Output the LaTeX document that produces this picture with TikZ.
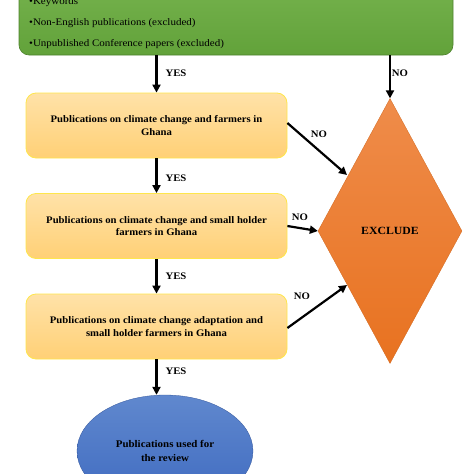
\documentclass[tikz,border=0pt]{standalone}
\usepackage{fontspec}
\setmainfont{Liberation Serif}
\newfontfamily\wideserif[FakeStretch=1.1]{Liberation Serif}
\newfontfamily\midserif[FakeStretch=1.07]{Liberation Serif}
\usetikzlibrary{shapes.geometric,arrows.meta}
\begin{document}
\begin{tikzpicture}[x=1pt,y=-1pt,
  greenbox/.style={line width=0.6pt,rounded corners=10pt,minimum width=434pt,minimum height=100pt,inner sep=0pt},
  stepbox/.style={draw=yellow!80!orange!70,line width=0.8pt,rounded corners=10pt,top color={rgb,255:red,255;green,226;blue,168},bottom color={rgb,255:red,255;green,208;blue,118},minimum width=261pt,minimum height=65pt,align=center,font=\midserif\fontsize{10}{12.5}\selectfont\bfseries,inner sep=0pt},
  lbl/.style={font=\midserif\fontsize{10}{11}\selectfont\bfseries,inner sep=0pt},
  arr/.style={line width=2.2pt,-{Triangle[length=8pt,width=8pt]}}]
\useasboundingbox (0,0) rectangle (474,474);
\definecolor{gtop}{RGB}{124,184,84}
\definecolor{gbot}{RGB}{98,162,58}
\definecolor{otop}{RGB}{239,140,74}
\definecolor{obot}{RGB}{232,114,32}
\definecolor{btop}{RGB}{96,136,206}
\definecolor{bbot}{RGB}{62,106,192}
\node[greenbox,top color=gtop,bottom color=gbot,draw=gbot!80!black] (screen) at (236,5) {};
\node[anchor=west,align=left,font=\wideserif\fontsize{10}{21}\selectfont,inner sep=0pt] (crit) at (29,23.5) {•Keywords\\•Non-English publications (excluded)\\•Unpublished Conference papers (excluded)};
\node[stepbox] (b1) at (156.5,125.5) {Publications on climate change and farmers in\\Ghana};
\node[stepbox] (b2) at (156.5,226) {Publications on climate change and small holder\\farmers in Ghana};
\node[stepbox] (b3) at (156.5,326.5) {Publications on climate change adaptation and\\small holder farmers in Ghana};
\node[diamond,top color=otop,bottom color=obot,draw=obot!90!black,line width=0.3pt,minimum width=144pt,minimum height=265pt,inner sep=0pt,aspect=0.54,font=\midserif\fontsize{11}{12}\selectfont\bfseries] (ex) at (390,231) {EXCLUDE};
\node[ellipse,top color=btop,bottom color=bbot,draw=bbot!80!black,line width=0.3pt,minimum width=176pt,minimum height=112pt,inner sep=0pt,align=center,font=\midserif\fontsize{10.2}{13.5}\selectfont\bfseries] (rev) at (165,451) {Publications used for\\the review};
\draw[arr] (screen.south -| b1.north) -- (b1.north);
\draw[arr] (b1) -- (b2);
\draw[arr] (b2) -- (b3);
\draw[arr] (b3.south) -- (b3.south |- rev.north);
\coordinate (exin1) at (347,175);
\coordinate (exin3) at (347,285);
\draw[arr] (screen.south -| ex.north) -- (ex.north);
\draw[arr] (b1.east |- 0,123) -- (exin1);
\draw[arr] (b2.east) -- (ex.west);
\draw[arr] (b3.east |- 0,328) -- (exin3);
\node[lbl] (y1) at (176,73) {YES};
\node[lbl] (y2) at (176,178) {YES};
\node[lbl] (y3) at (176,276) {YES};
\node[lbl] (y4) at (176,371) {YES};
\node[lbl] (n0) at (400,73) {NO};
\node[lbl] (n1) at (319,134) {NO};
\node[lbl] (n2) at (300,217) {NO};
\node[lbl] (n3) at (302,296) {NO};
\end{tikzpicture}
\end{document}
